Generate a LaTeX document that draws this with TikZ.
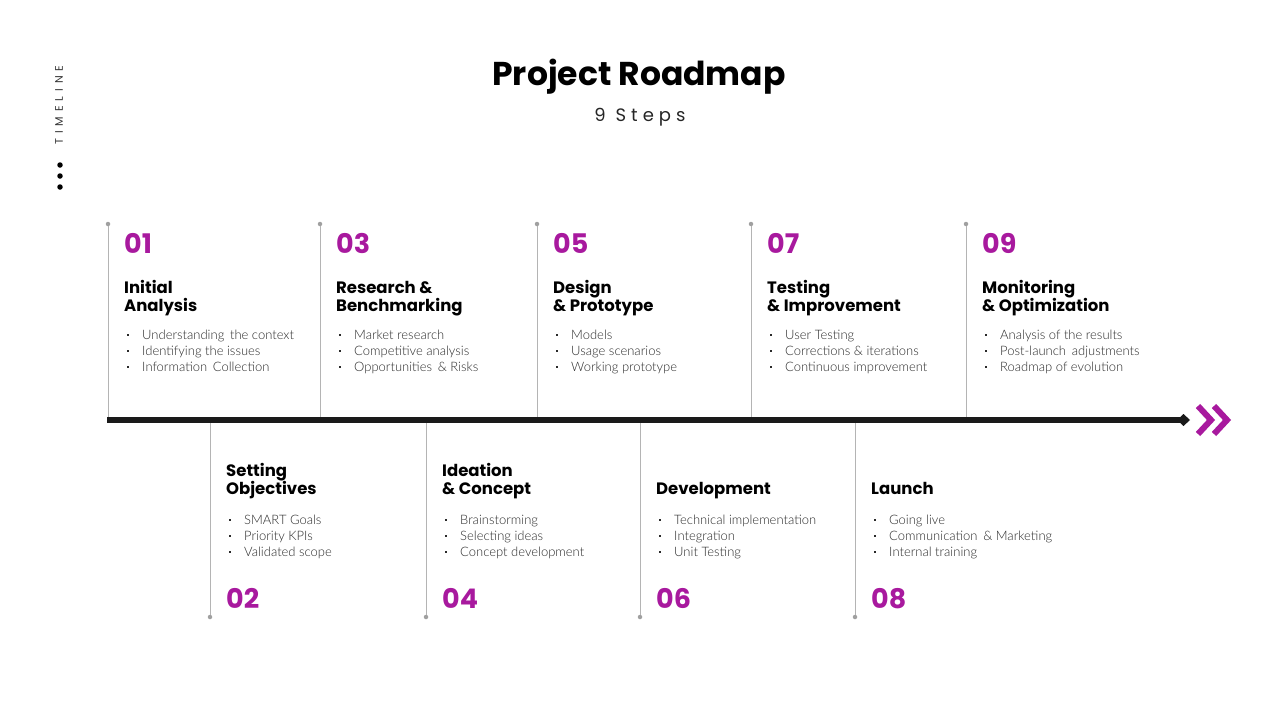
\documentclass[tikz,border=0pt]{standalone}
\usepackage{fontspec}
\setmainfont{Lato Light}
\newfontfamily\hf{Poppins}
\usetikzlibrary{arrows.meta}
\definecolor{mag}{HTML}{A8199E}
\definecolor{tl}{HTML}{1A1A1A}
\definecolor{txt}{HTML}{2A2A2A}
\definecolor{vl}{HTML}{B4B4B4}
\definecolor{pinc}{HTML}{A0A0A0}
\tikzset{
 num/.style={anchor=base west, inner sep=0, font=\hf\bfseries\fontsize{27}{27}\selectfont, text=mag},
 head/.style={anchor=base west, inner sep=0, font=\hf\bfseries\fontsize{16.5}{19}\selectfont, text=black},
 bul/.style={anchor=base west, inner sep=0, font=\fontsize{13}{16}\selectfont, text=txt},
 bsq/.style={rectangle, fill=txt, inner sep=0, minimum size=2.6pt},
 vline/.style={draw=vl, line width=1pt},
 pin/.style={circle, fill=pinc, inner sep=0, minimum size=4.5pt},
 dotm/.style={circle, fill=black, inner sep=0, minimum size=5.5pt},
}
\newcommand\blist[6]{%
 \node[bsq] (#1b1) at (#2+4,#3-4) {};
 \node[bul] (#1t1) at (#2+18,#3) {#4};
 \node[bsq] (#1b2) at (#2+4,#3+12) {};
 \node[bul] (#1t2) at (#2+18,#3+16) {#5};
 \node[bsq] (#1b3) at (#2+4,#3+28) {};
 \node[bul] (#1t3) at (#2+18,#3+32) {#6};
}
\newcommand\upstep[8]{%
 \node[pin] (#1p) at (#2,224) {};
 \coordinate (#1t) at (#2,420);
 \draw[vline] (#1p) -- (#1t);
 \node[num] (#1n) at (#2+16,253) {#3};
 \node[head] (#1h1) at (#2+16,293) {#4};
 \node[head] (#1h2) at (#2+16,311) {#5};
 \blist{#1}{#2+16}{339}{#6}{#7}{#8}
}
\newcommand\downstep[8]{%
 \coordinate (#1t) at (#2,420);
 \node[pin] (#1p) at (#2,617) {};
 \draw[vline] (#1t) -- (#1p);
 \node[head] (#1h1) at (#2+16,476) {#4};
 \node[head] (#1h2) at (#2+16,494) {#5};
 \blist{#1}{#2+16}{524}{#6}{#7}{#8}
 \node[num] (#1n) at (#2+16,608) {#3};
}
\begin{document}
\begin{tikzpicture}[x=1pt,y=-1pt]
\fill[white] (0,0) rectangle (1280,720);
\useasboundingbox (0,0) rectangle (1280,720);
% title
\node[anchor=base, inner sep=0, font=\hf\bfseries\fontsize{33}{33}\selectfont] (title) at (639,85) {Project Roadmap};
\node[anchor=base, inner sep=0, font=\hf\fontsize{18}{18}\selectfont\addfontfeature{LetterSpace=28}, text=black!85] (sub) at (640,121) {9 Steps};
% side label
\node[rotate=90, inner sep=0, font=\hf\fontsize{11}{11}\selectfont\addfontfeature{LetterSpace=45}, text=black!80] (side) at (59,105) {TIMELINE};
\node[dotm] (d1) at (60,165) {};
\node[dotm] (d2) at (60,176) {};
\node[dotm] (d3) at (60,187) {};
% steps
\upstep{s1}{108}{01}{Initial}{Analysis}{Understanding\, the context}{Identifying the issues}{Information\, Collection}
\upstep{s3}{320}{03}{Research \&}{Benchmarking}{Market research}{Competitive analysis}{Opportunities\, \& Risks}
\upstep{s5}{537}{05}{Design}{\& Prototype}{Models}{Usage scenarios}{Working prototype}
\upstep{s7}{751}{07}{Testing}{\& Improvement}{User Testing}{Corrections \& iterations}{Continuous improvement}
\upstep{s9}{966}{09}{Monitoring}{\& Optimization}{Analysis of the results}{Post-launch\, adjustments}{Roadmap of evolution}
\downstep{s2}{210}{02}{Setting}{Objectives}{SMART Goals}{Priority KPIs}{Validated scope}
\downstep{s4}{426}{04}{Ideation}{\& Concept}{Brainstorming}{Selecting ideas}{Concept development}
\downstep{s6}{640}{06}{}{Development}{Technical implementation}{Integration}{Unit Testing}
\downstep{s8}{855}{08}{}{Launch}{Going live}{Communication\, \& Marketing}{Internal training}
% timeline
\coordinate (ts) at (107,420);
\coordinate (te) at (1190,420);
\draw[line width=6pt, tl, -{Diamond[length=13pt,width=12pt]}] (ts) -- (te);
% chevrons
\coordinate (c1a) at (1198,406); \coordinate (c1b) at (1211,420); \coordinate (c1c) at (1198,434);
\coordinate (c2a) at (1214,406); \coordinate (c2b) at (1227,420); \coordinate (c2c) at (1214,434);
\draw[mag, line width=6pt, miter limit=4] (c1a) -- (c1b) -- (c1c);
\draw[mag, line width=6pt, miter limit=4] (c2a) -- (c2b) -- (c2c);
\end{tikzpicture}
\end{document}
